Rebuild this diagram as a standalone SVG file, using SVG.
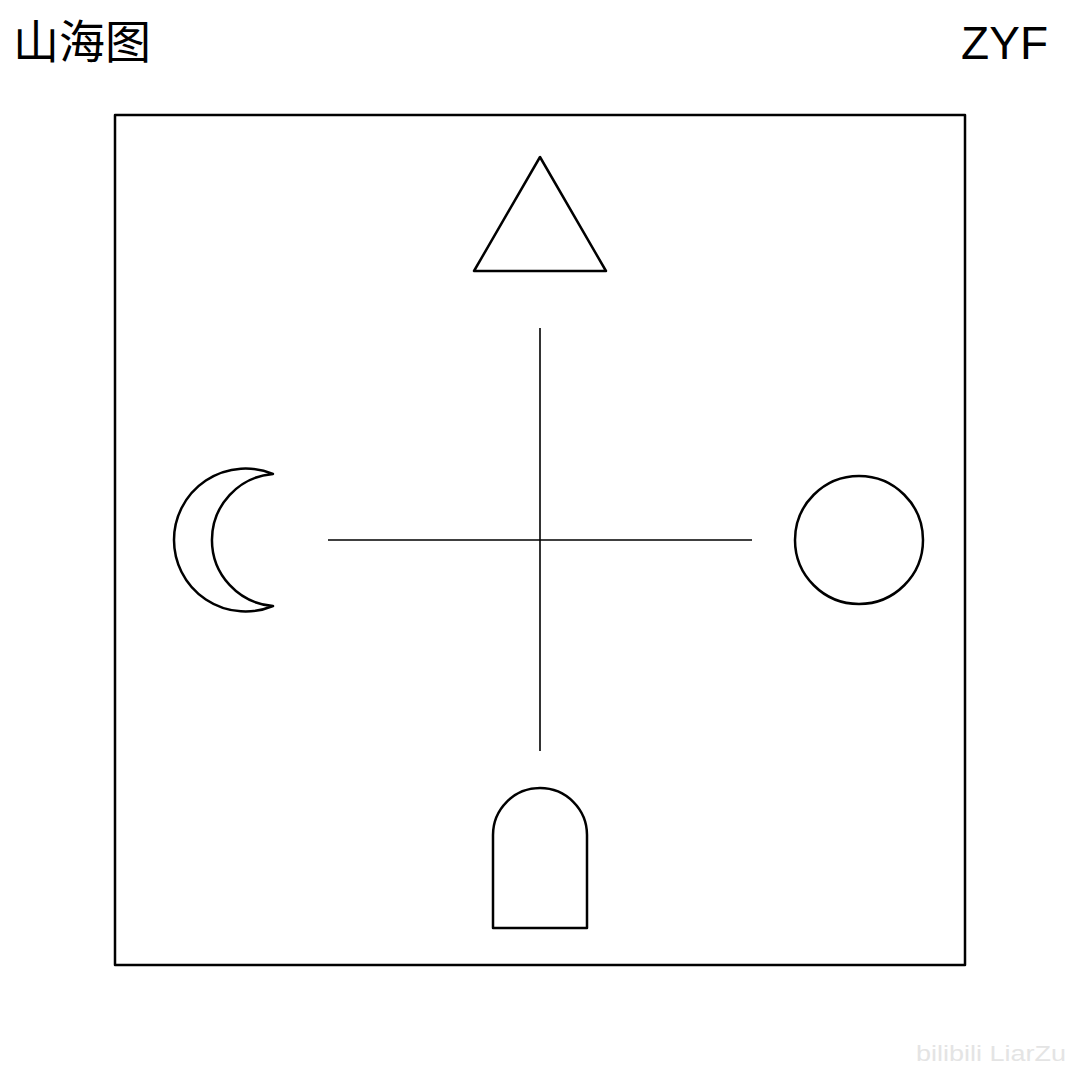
<svg xmlns="http://www.w3.org/2000/svg" width="1080" height="1080" viewBox="0 0 1080 1080">
<style>
.shape{fill:none;stroke:#000;stroke-width:2.5;stroke-linejoin:round}
.line{stroke:#000;stroke-width:1.6}
.title{font-family:"Noto Sans CJK SC","Noto Sans",sans-serif;font-size:46px;fill:#000}
.label{font-family:"Liberation Sans",Arial,sans-serif;font-size:46px;fill:#000}
.wm{font-family:"Liberation Sans",Arial,sans-serif;font-size:22px;fill:#e4e4e4}
</style>
<rect width="1080" height="1080" fill="#fff"/>
<text class="title" x="13" y="58">山海图</text>
<text class="label" x="1048" y="59" text-anchor="end">ZYF</text>
<rect id="frame" class="shape" x="115" y="115" width="850" height="850"/>
<g id="connectors">
<line class="line" x1="540" y1="328" x2="540" y2="751"/>
<line class="line" x1="328" y1="540" x2="752" y2="540"/>
</g>
<g id="mountain"><polygon class="shape" points="540,157 474,271 606,271"/></g>
<g id="moon"><path class="shape" d="M273,474 A71.5,71.5 0 1 0 273,606 A66.2,66.2 0 0 1 273,474 Z"/></g>
<g id="sun"><circle class="shape" cx="859" cy="540" r="64"/></g>
<g id="gate"><path class="shape" d="M493,928 V835 A47,47 0 0 1 587,835 V928 Z"/></g>
<text class="wm" x="916" y="1061" textLength="150" lengthAdjust="spacingAndGlyphs">bilibili LiarZu</text>
</svg>
